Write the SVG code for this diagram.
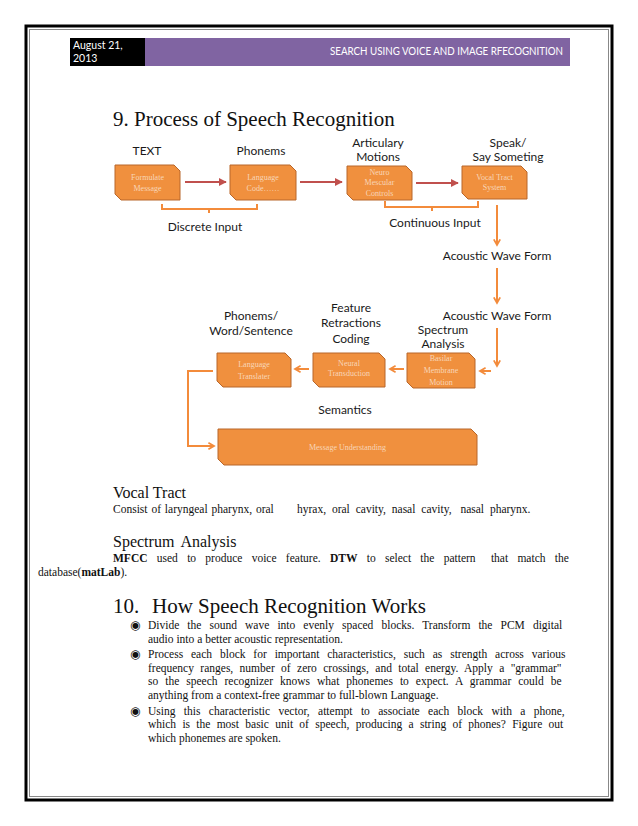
<svg xmlns="http://www.w3.org/2000/svg" width="638" height="826" viewBox="0 0 638 826">
<defs>
<style>
.lbl{font-family:Lato,"Liberation Sans",sans-serif;font-size:12px;fill:#1a1a1a;text-anchor:middle}
.box{fill:#f0903e;stroke:#b8662a;stroke-width:1}
.bt{font-family:"Liberation Serif",serif;font-size:8px;fill:#f8d6b8;text-anchor:middle}
.red{stroke:#c0504d;stroke-width:2;fill:none}
.org{stroke:#f38b3b;stroke-width:2;fill:none}
.body{font-family:"Liberation Serif","Times New Roman",serif;font-size:11.5px;fill:#111}
.h{font-family:"Liberation Serif","Times New Roman",serif;fill:#111}
.bul{font-family:"DejaVu Sans",sans-serif;font-size:12px;fill:#111}
</style>
<marker id="ar" viewBox="0 0 10 10" refX="9" refY="5" markerWidth="4" markerHeight="4" orient="auto"><path d="M0,0 L10,5 L0,10 z" fill="#c0504d"/></marker>
<marker id="ao" viewBox="0 0 10 10" refX="8" refY="5" markerWidth="4" markerHeight="4" orient="auto"><path d="M1,1 L8,5 L1,9" fill="none" stroke="#f38b3b" stroke-width="2.2"/></marker>
</defs>
<rect width="638" height="826" fill="#fff"/>
<g id="frame">
<rect x="26" y="26" width="586" height="774" fill="none" stroke="#000" stroke-width="3"/>
<rect x="29.5" y="29.5" width="579" height="767" fill="none" stroke="#888" stroke-width="1"/>
</g>
<g id="header">
<rect x="70" y="38" width="75" height="28" fill="#000"/>
<rect x="145" y="38" width="425" height="28" fill="#8064a2"/>
<text x="73" y="49" font-family="Lato,'Liberation Sans',sans-serif" font-size="10.5" fill="#fff">August 21,</text>
<text x="73" y="62" font-family="Lato,'Liberation Sans',sans-serif" font-size="10.5" fill="#fff">2013</text>
<text x="330" y="55" font-family="Lato,'Liberation Sans',sans-serif" font-size="11" fill="#fff" textLength="233" lengthAdjust="spacingAndGlyphs">SEARCH USING VOICE AND IMAGE RFECOGNITION</text>
</g>
<text class="h" x="113" y="126" font-size="21">9. Process of Speech Recognition</text>

<g id="connectors">
<line class="red" x1="185" y1="182" x2="226" y2="182" marker-end="url(#ar)"/>
<line class="red" x1="300" y1="182" x2="342" y2="182" marker-end="url(#ar)"/>
<line class="red" x1="416" y1="183" x2="458" y2="183" marker-end="url(#ar)"/>
<path class="org" d="M162,204 V209 H257 V204 M209,209 V213"/>
<path class="org" d="M385,201 V207 H478 V201 M432,207 V211"/>
<line class="org" x1="497" y1="205" x2="497" y2="245" marker-end="url(#ao)"/>
<line class="org" x1="497" y1="268" x2="497" y2="303" marker-end="url(#ao)"/>
<line class="org" x1="497" y1="328" x2="497" y2="366" marker-end="url(#ao)"/>
<line class="org" x1="491" y1="371" x2="480" y2="371" marker-end="url(#ao)"/>
<line class="org" x1="404" y1="369" x2="390" y2="369" marker-end="url(#ao)"/>
<line class="org" x1="309" y1="369" x2="295" y2="369" marker-end="url(#ao)"/>
<path class="org" d="M213,371 H188 V446 H214" marker-end="url(#ao)"/>
</g>

<g id="n1"><path class="box" d="M115,165 H174 L180,171 V200 H121 L115,194 Z"/><text class="bt" x="147.5" y="180">Formulate</text><text class="bt" x="147.5" y="191">Message</text></g>
<g id="n2"><path class="box" d="M230,165 H290 L296,171 V200 H236 L230,194 Z"/><text class="bt" x="263" y="180">Language</text><text class="bt" x="263" y="191">Code……</text></g>
<g id="n3"><path class="box" d="M347,166 H406 L412,172 V200 H353 L347,194 Z"/><text class="bt" x="379.5" y="175">Neuro</text><text class="bt" x="379.5" y="185">Mescular</text><text class="bt" x="379.5" y="196">Controls</text></g>
<g id="n4"><path class="box" d="M462,166 H521 L527,172 V199 H468 L462,193 Z"/><text class="bt" x="494.5" y="180">Vocal Tract</text><text class="bt" x="494.5" y="190">System</text></g>
<g id="n5"><path class="box" d="M407,353 H469 L475,359 V388 H413 L407,382 Z"/><text class="bt" x="441" y="361">Basilar</text><text class="bt" x="441" y="373">Membrane</text><text class="bt" x="441" y="385">Motion</text></g>
<g id="n6"><path class="box" d="M313,353 H379 L385,359 V387 H319 L313,381 Z"/><text class="bt" x="349" y="366" font-size="6.5">Neural</text><text class="bt" x="349" y="376" font-size="6.5">Transduction</text></g>
<g id="n7"><path class="box" d="M217,353 H285 L291,359 V387 H223 L217,381 Z"/><text class="bt" x="254" y="367">Language</text><text class="bt" x="254" y="379">Translater</text></g>
<g id="n8"><path class="box" d="M218,429 H471 L477,435 V465 H224 L218,459 Z"/><text class="bt" x="347.5" y="450" font-size="9">Message Understanding</text></g>

<g id="labels">
<text class="lbl" x="147" y="155">TEXT</text>
<text class="lbl" x="261" y="155">Phonems</text>
<text class="lbl" x="378" y="147">Articulary</text>
<text class="lbl" x="378" y="161">Motions</text>
<text class="lbl" x="508" y="147">Speak/</text>
<text class="lbl" x="508" y="161">Say Someting</text>
<text class="lbl" x="205" y="231">Discrete Input</text>
<text class="lbl" x="435" y="227">Continuous Input</text>
<text class="lbl" x="497" y="260">Acoustic Wave Form</text>
<text class="lbl" x="497" y="320">Acoustic Wave Form</text>
<text class="lbl" x="251" y="320">Phonems/</text>
<text class="lbl" x="251" y="335">Word/Sentence</text>
<text class="lbl" x="351" y="312">Feature</text>
<text class="lbl" x="351" y="327">Retractions</text>
<text class="lbl" x="351" y="343">Coding</text>
<text class="lbl" x="443" y="334">Spectrum</text>
<text class="lbl" x="443" y="348">Analysis</text>
<text class="lbl" x="345" y="414">Semantics</text>
</g>

<g id="text">
<text class="h" x="113" y="498" font-size="16">Vocal Tract</text>
<text class="body" x="113" y="513" word-spacing="1">Consist of laryngeal pharynx, oral</text>
<text class="body" x="297" y="513" word-spacing="3">hyrax, oral cavity, nasal cavity, <tspan dx="3">nasal pharynx.</tspan></text>
<text class="h" x="113" y="547" font-size="16">Spectrum <tspan dx="3">Analysis</tspan></text>
<text class="body" x="113" y="562" word-spacing="6.4"><tspan font-weight="bold">MFCC</tspan> used to produce voice feature. <tspan font-weight="bold">DTW</tspan> to select the pattern <tspan dx="6">that match the</tspan></text>
<text class="body" x="38" y="576">database(<tspan font-weight="bold">matLab</tspan>).</text>
<text class="h" x="113" y="613" font-size="21">10.</text>
<text class="h" x="152" y="613" font-size="21">How Speech Recognition Works</text>
<text class="bul" x="130" y="629">◉</text>
<text class="body" x="148" y="629" word-spacing="5.2">Divide the sound wave into evenly spaced blocks. Transform the PCM digital</text>
<text class="body" x="148" y="643">audio into a better acoustic representation.</text>
<text class="bul" x="130" y="658">◉</text>
<text class="body" x="148" y="658" word-spacing="5.0">Process each block for important characteristics, such as strength across various</text>
<text class="body" x="148" y="672" word-spacing="3.5">frequency ranges, number of zero crossings, and total energy. Apply a "grammar"</text>
<text class="body" x="148" y="685" word-spacing="4.1">so the speech recognizer knows what phonemes to expect. A grammar could be</text>
<text class="body" x="148" y="699">anything from a context-free grammar to full-blown Language.</text>
<text class="bul" x="130" y="715">◉</text>
<text class="body" x="148" y="715" word-spacing="5.5">Using this characteristic vector, attempt to associate each block with a phone,</text>
<text class="body" x="148" y="728" word-spacing="3.4">which is the most basic unit of speech, producing a string of phones? Figure out</text>
<text class="body" x="148" y="742">which phonemes are spoken.</text>
</g>
</svg>
